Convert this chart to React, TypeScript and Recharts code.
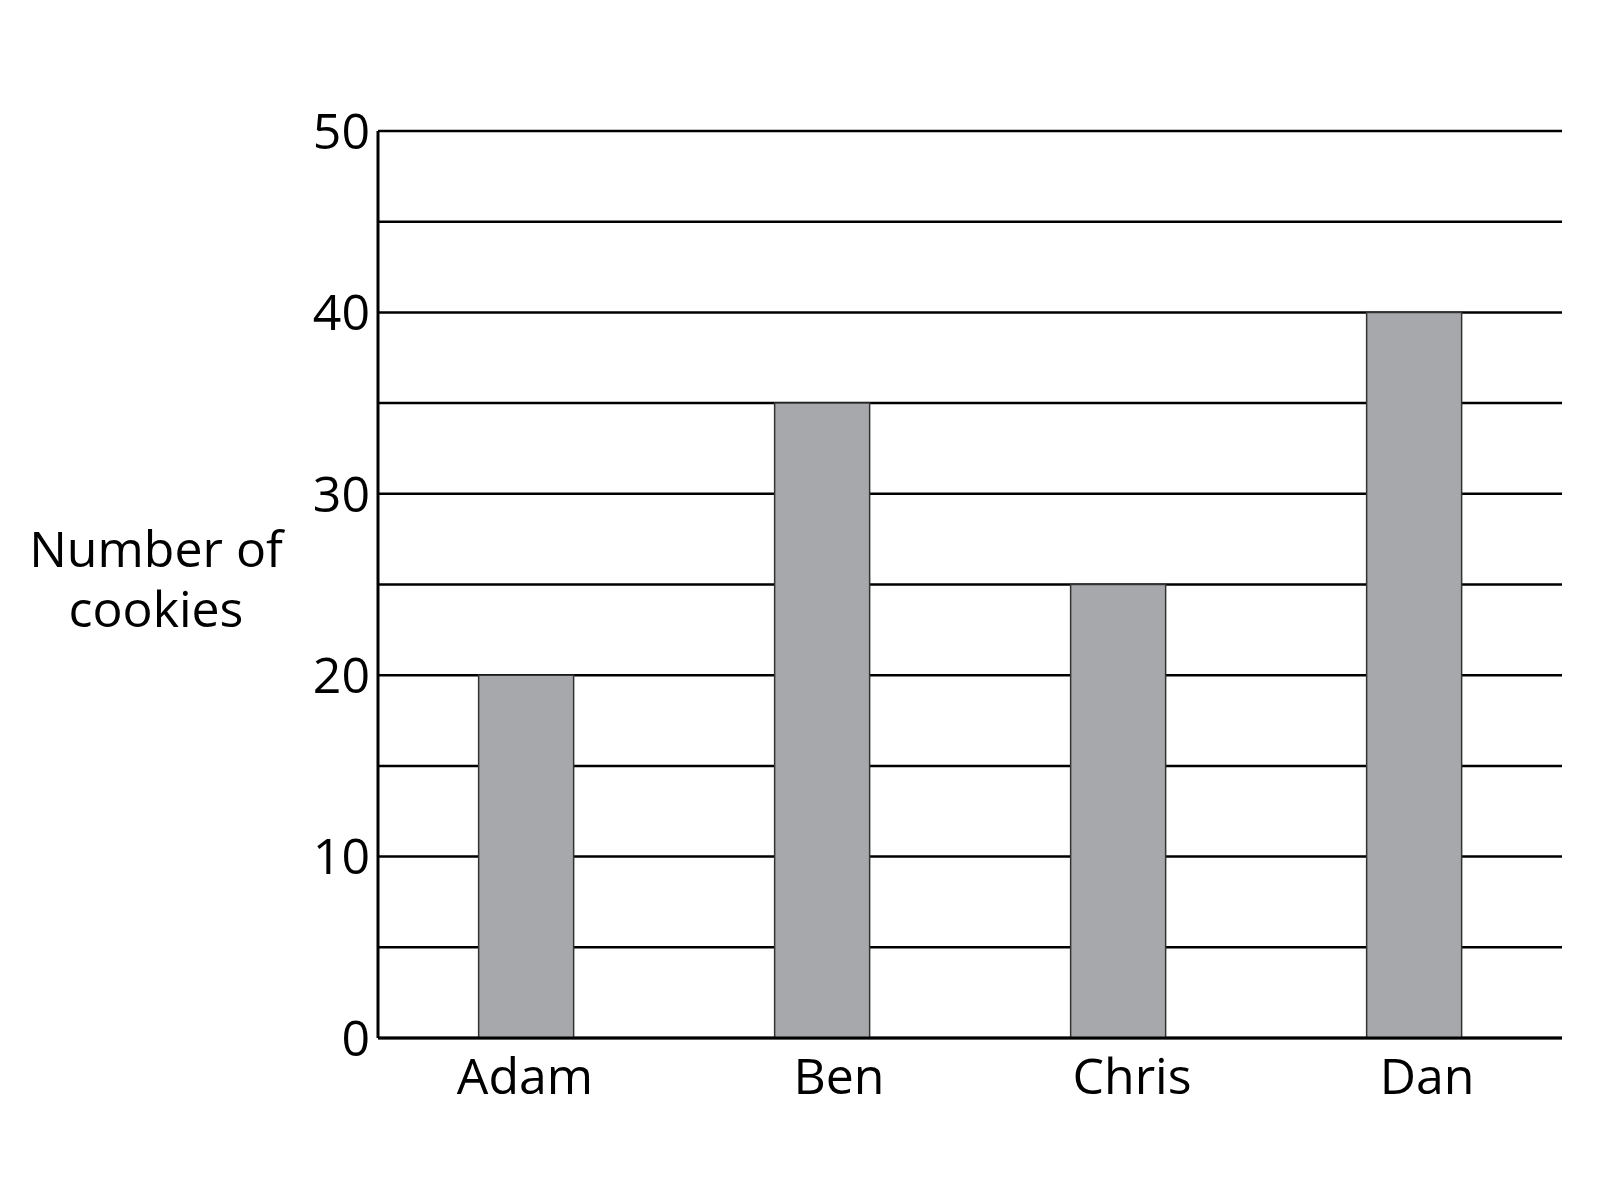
import { BarChart, Bar, XAxis, YAxis, CartesianGrid } from 'recharts';

const names = ['Adam', 'Ben', 'Chris', 'Dan'];
const cookies = [20, 35, 25, 40];
const yTicks = [0, 5, 10, 15, 20, 25, 30, 35, 40, 45, 50];

const data = names.map((name, i) => ({ name, cookies: cookies[i] }));

const font = '"Open Sans", sans-serif';

// the labels in the original sit a little off the bar centres
const labelShift: Record<string, number> = { Adam: -1, Ben: 17, Chris: 14, Dan: 13 };

const NameTick = (props: any) => {
  const { x, y, payload } = props;
  return (
    <text
      x={x + (labelShift[payload.value] || 0)}
      y={y}
      dy="0.71em"
      textAnchor="middle"
      fontFamily={font}
      fontSize={50}
      fill="#000"
    >
      {payload.value}
    </text>
  );
};

const YLabel = (props: any) => {
  const { viewBox } = props;
  const cx = viewBox.x - 122;
  return (
    <text x={cx} y={567} textAnchor="middle" fontFamily={font} fontSize={50} fill="#000">
      <tspan x={cx} y={567}>Number of</tspan>
      <tspan x={cx} y={627}>cookies</tspan>
    </text>
  );
};

const App = () => {
  return (
    <div style={{ position: 'absolute', left: 0, top: 0, width: 1600, height: 1178, background: '#fff' }}>
      <BarChart
        width={1600}
        height={1178}
        data={data}
        margin={{ top: 131, right: 38, left: 278, bottom: 60 }}
        barCategoryGap="34%"
      >
        <CartesianGrid vertical={false} stroke="#000" strokeWidth={2.5} />
        <XAxis
          dataKey="name"
          height={80}
          axisLine={{ stroke: '#000', strokeWidth: 3 }}
          tickLine={false}
          tickSize={0}
          tickMargin={20}
          tick={<NameTick />}
        />
        <YAxis
          width={100}
          domain={[0, 50]}
          ticks={yTicks}
          interval={0}
          tickFormatter={(v: number) => (v % 10 === 0 ? String(v) : '')}
          axisLine={{ stroke: '#000', strokeWidth: 3 }}
          tickLine={false}
          tickSize={0}
          tickMargin={8}
          tick={{ fill: '#000', fontSize: 50, fontFamily: font }}
          label={<YLabel />}
        />
        <Bar dataKey="cookies" fill="#a7a8ab" stroke="#333" strokeWidth={1.5} isAnimationActive={false} />
      </BarChart>
    </div>
  );
};

export default App;
